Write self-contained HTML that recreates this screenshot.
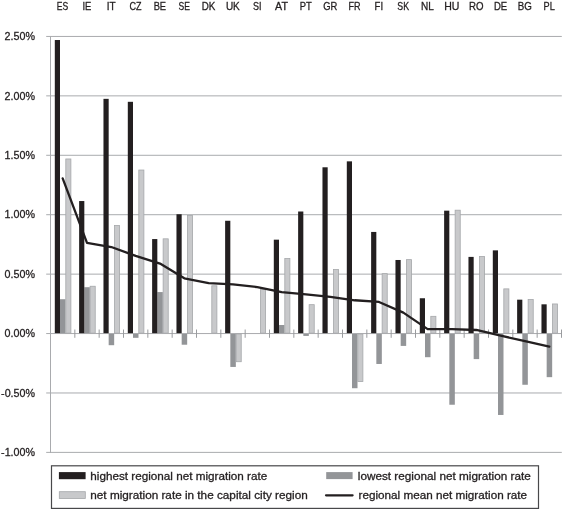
<!DOCTYPE html>
<html><head><meta charset="utf-8"><title>Regional net migration rates</title>
<style>html,body{margin:0;padding:0;background:#fff}svg{display:block}text{font-family:"Liberation Sans", sans-serif;fill:#231f20;stroke:#231f20;stroke-width:0.3px}</style></head><body>
<svg width="562" height="509" viewBox="0 0 562 509">
<rect width="562" height="509" fill="#fff"/>
<g stroke="#a9abae" stroke-width="1" fill="none">
<line x1="46.2" y1="36.45" x2="561.8" y2="36.45"/>
<line x1="46.2" y1="95.87" x2="561.8" y2="95.87"/>
<line x1="46.2" y1="155.29" x2="561.8" y2="155.29"/>
<line x1="46.2" y1="214.71" x2="561.8" y2="214.71"/>
<line x1="46.2" y1="274.13" x2="561.8" y2="274.13"/>
<line x1="46.2" y1="333.55" x2="561.8" y2="333.55"/>
<line x1="46.2" y1="392.97" x2="561.8" y2="392.97"/>
<line x1="46.2" y1="452.39" x2="561.8" y2="452.39"/>
<line x1="50.5" y1="36" x2="50.5" y2="453"/>
<line x1="74.83" y1="329.5" x2="74.83" y2="337.8" stroke="#9a9c9f"/>
<line x1="99.17" y1="329.5" x2="99.17" y2="337.8" stroke="#9a9c9f"/>
<line x1="123.50" y1="329.5" x2="123.50" y2="337.8" stroke="#9a9c9f"/>
<line x1="147.83" y1="329.5" x2="147.83" y2="337.8" stroke="#9a9c9f"/>
<line x1="172.17" y1="329.5" x2="172.17" y2="337.8" stroke="#9a9c9f"/>
<line x1="196.50" y1="329.5" x2="196.50" y2="337.8" stroke="#9a9c9f"/>
<line x1="220.83" y1="329.5" x2="220.83" y2="337.8" stroke="#9a9c9f"/>
<line x1="245.17" y1="329.5" x2="245.17" y2="337.8" stroke="#9a9c9f"/>
<line x1="269.50" y1="329.5" x2="269.50" y2="337.8" stroke="#9a9c9f"/>
<line x1="293.83" y1="329.5" x2="293.83" y2="337.8" stroke="#9a9c9f"/>
<line x1="318.17" y1="329.5" x2="318.17" y2="337.8" stroke="#9a9c9f"/>
<line x1="342.50" y1="329.5" x2="342.50" y2="337.8" stroke="#9a9c9f"/>
<line x1="366.83" y1="329.5" x2="366.83" y2="337.8" stroke="#9a9c9f"/>
<line x1="391.17" y1="329.5" x2="391.17" y2="337.8" stroke="#9a9c9f"/>
<line x1="415.50" y1="329.5" x2="415.50" y2="337.8" stroke="#9a9c9f"/>
<line x1="439.83" y1="329.5" x2="439.83" y2="337.8" stroke="#9a9c9f"/>
<line x1="464.17" y1="329.5" x2="464.17" y2="337.8" stroke="#9a9c9f"/>
<line x1="488.50" y1="329.5" x2="488.50" y2="337.8" stroke="#9a9c9f"/>
<line x1="512.83" y1="329.5" x2="512.83" y2="337.8" stroke="#9a9c9f"/>
<line x1="537.17" y1="329.5" x2="537.17" y2="337.8" stroke="#9a9c9f"/>
<line x1="561.50" y1="329.5" x2="561.50" y2="337.8" stroke="#9a9c9f"/>
</g>
<rect x="60.00" y="299.21" width="5.50" height="33.94" fill="#939598"/>
<rect x="65.80" y="158.97" width="5.10" height="174.18" fill="#c8c9cb" stroke="#a5a7aa" stroke-width="0.8"/>
<rect x="54.80" y="40.02" width="5.20" height="293.13" fill="#231f20"/>
<rect x="84.33" y="287.20" width="5.50" height="45.95" fill="#939598"/>
<rect x="90.13" y="286.25" width="5.10" height="46.90" fill="#c8c9cb" stroke="#a5a7aa" stroke-width="0.8"/>
<rect x="79.13" y="201.04" width="5.20" height="132.11" fill="#231f20"/>
<rect x="108.67" y="333.95" width="5.50" height="11.25" fill="#939598"/>
<rect x="114.47" y="225.52" width="5.10" height="107.63" fill="#c8c9cb" stroke="#a5a7aa" stroke-width="0.8"/>
<rect x="103.47" y="98.84" width="5.20" height="234.31" fill="#231f20"/>
<rect x="133.00" y="333.95" width="5.50" height="3.88" fill="#939598"/>
<rect x="138.80" y="170.03" width="5.10" height="163.12" fill="#c8c9cb" stroke="#a5a7aa" stroke-width="0.8"/>
<rect x="127.80" y="101.81" width="5.20" height="231.34" fill="#231f20"/>
<rect x="157.33" y="292.07" width="5.50" height="41.08" fill="#939598"/>
<rect x="163.13" y="238.83" width="5.10" height="94.32" fill="#c8c9cb" stroke="#a5a7aa" stroke-width="0.8"/>
<rect x="152.13" y="239.07" width="5.20" height="94.08" fill="#231f20"/>
<rect x="181.67" y="333.95" width="5.50" height="10.77" fill="#939598"/>
<rect x="187.47" y="215.54" width="5.10" height="117.61" fill="#c8c9cb" stroke="#a5a7aa" stroke-width="0.8"/>
<rect x="176.47" y="214.23" width="5.20" height="118.92" fill="#231f20"/>
<rect x="211.80" y="285.78" width="5.10" height="47.37" fill="#c8c9cb" stroke="#a5a7aa" stroke-width="0.8"/>
<rect x="230.33" y="333.95" width="5.50" height="32.99" fill="#939598"/>
<rect x="236.13" y="333.95" width="5.10" height="27.77" fill="#c8c9cb" stroke="#a5a7aa" stroke-width="0.8"/>
<rect x="225.13" y="220.77" width="5.20" height="112.38" fill="#231f20"/>
<rect x="260.47" y="289.58" width="5.10" height="43.57" fill="#c8c9cb" stroke="#a5a7aa" stroke-width="0.8"/>
<rect x="279.00" y="324.99" width="5.50" height="8.16" fill="#939598"/>
<rect x="284.80" y="258.56" width="5.10" height="74.59" fill="#c8c9cb" stroke="#a5a7aa" stroke-width="0.8"/>
<rect x="273.80" y="239.67" width="5.20" height="93.48" fill="#231f20"/>
<rect x="303.33" y="333.95" width="5.50" height="1.98" fill="#939598"/>
<rect x="309.13" y="304.67" width="5.10" height="28.48" fill="#c8c9cb" stroke="#a5a7aa" stroke-width="0.8"/>
<rect x="298.13" y="211.50" width="5.20" height="121.65" fill="#231f20"/>
<rect x="333.47" y="269.50" width="5.10" height="63.65" fill="#c8c9cb" stroke="#a5a7aa" stroke-width="0.8"/>
<rect x="322.47" y="167.29" width="5.20" height="165.86" fill="#231f20"/>
<rect x="352.00" y="333.95" width="5.50" height="54.27" fill="#939598"/>
<rect x="357.80" y="333.95" width="5.10" height="47.61" fill="#c8c9cb" stroke="#a5a7aa" stroke-width="0.8"/>
<rect x="346.80" y="161.35" width="5.20" height="171.80" fill="#231f20"/>
<rect x="376.33" y="333.95" width="5.50" height="30.02" fill="#939598"/>
<rect x="382.13" y="273.65" width="5.10" height="59.50" fill="#c8c9cb" stroke="#a5a7aa" stroke-width="0.8"/>
<rect x="371.13" y="231.94" width="5.20" height="101.21" fill="#231f20"/>
<rect x="400.67" y="333.95" width="5.50" height="11.96" fill="#939598"/>
<rect x="406.47" y="259.63" width="5.10" height="73.52" fill="#c8c9cb" stroke="#a5a7aa" stroke-width="0.8"/>
<rect x="395.47" y="259.99" width="5.20" height="73.16" fill="#231f20"/>
<rect x="425.00" y="333.95" width="5.50" height="23.25" fill="#939598"/>
<rect x="430.80" y="316.32" width="5.10" height="16.83" fill="#c8c9cb" stroke="#a5a7aa" stroke-width="0.8"/>
<rect x="419.80" y="298.25" width="5.20" height="34.90" fill="#231f20"/>
<rect x="449.33" y="333.95" width="5.50" height="70.79" fill="#939598"/>
<rect x="455.13" y="210.19" width="5.10" height="122.96" fill="#c8c9cb" stroke="#a5a7aa" stroke-width="0.8"/>
<rect x="444.13" y="210.67" width="5.20" height="122.48" fill="#231f20"/>
<rect x="473.67" y="333.95" width="5.50" height="25.15" fill="#939598"/>
<rect x="479.47" y="256.42" width="5.10" height="76.73" fill="#c8c9cb" stroke="#a5a7aa" stroke-width="0.8"/>
<rect x="468.47" y="256.90" width="5.20" height="76.25" fill="#231f20"/>
<rect x="498.00" y="333.95" width="5.50" height="81.01" fill="#939598"/>
<rect x="503.80" y="288.87" width="5.10" height="44.28" fill="#c8c9cb" stroke="#a5a7aa" stroke-width="0.8"/>
<rect x="492.80" y="250.36" width="5.20" height="82.79" fill="#231f20"/>
<rect x="522.33" y="333.95" width="5.50" height="50.82" fill="#939598"/>
<rect x="528.13" y="299.44" width="5.10" height="33.71" fill="#c8c9cb" stroke="#a5a7aa" stroke-width="0.8"/>
<rect x="517.13" y="299.68" width="5.20" height="33.47" fill="#231f20"/>
<rect x="546.67" y="333.95" width="5.50" height="43.21" fill="#939598"/>
<rect x="552.47" y="303.96" width="5.10" height="29.19" fill="#c8c9cb" stroke="#a5a7aa" stroke-width="0.8"/>
<rect x="541.47" y="304.32" width="5.20" height="28.83" fill="#231f20"/>
<polyline points="62.67,178.34 87.00,242.88 111.33,247.03 135.67,255.95 160.00,263.55 184.33,278.29 208.67,283.04 233.00,284.47 257.33,287.08 281.67,292.19 306.00,294.45 330.33,296.95 354.67,300.27 379.00,301.94 403.33,312.63 427.67,329.15 452.00,329.15 476.33,329.98 500.67,335.69 525.00,341.16 549.33,346.62" fill="none" stroke="#231f20" stroke-width="2.3" stroke-linejoin="round" stroke-linecap="round"/>
<text x="62.52" y="10.4" font-size="11" text-anchor="middle" textLength="11.4" lengthAdjust="spacingAndGlyphs">ES</text>
<text x="86.85" y="10.4" font-size="11" text-anchor="middle" textLength="8.9" lengthAdjust="spacingAndGlyphs">IE</text>
<text x="111.18" y="10.4" font-size="11" text-anchor="middle" textLength="8.9" lengthAdjust="spacingAndGlyphs">IT</text>
<text x="135.52" y="10.4" font-size="11" text-anchor="middle" textLength="12.0" lengthAdjust="spacingAndGlyphs">CZ</text>
<text x="159.85" y="10.4" font-size="11" text-anchor="middle" textLength="12.4" lengthAdjust="spacingAndGlyphs">BE</text>
<text x="184.18" y="10.4" font-size="11" text-anchor="middle" textLength="11.4" lengthAdjust="spacingAndGlyphs">SE</text>
<text x="208.52" y="10.4" font-size="11" text-anchor="middle" textLength="13.6" lengthAdjust="spacingAndGlyphs">DK</text>
<text x="232.85" y="10.4" font-size="11" text-anchor="middle" textLength="13.9" lengthAdjust="spacingAndGlyphs">UK</text>
<text x="257.18" y="10.4" font-size="11" text-anchor="middle" textLength="8.5" lengthAdjust="spacingAndGlyphs">SI</text>
<text x="281.52" y="10.4" font-size="11" text-anchor="middle" textLength="12.8" lengthAdjust="spacingAndGlyphs">AT</text>
<text x="305.85" y="10.4" font-size="11" text-anchor="middle" textLength="12.0" lengthAdjust="spacingAndGlyphs">PT</text>
<text x="330.18" y="10.4" font-size="11" text-anchor="middle" textLength="14.1" lengthAdjust="spacingAndGlyphs">GR</text>
<text x="354.52" y="10.4" font-size="11" text-anchor="middle" textLength="12.0" lengthAdjust="spacingAndGlyphs">FR</text>
<text x="378.85" y="10.4" font-size="11" text-anchor="middle" textLength="8.5" lengthAdjust="spacingAndGlyphs">FI</text>
<text x="403.18" y="10.4" font-size="11" text-anchor="middle" textLength="11.7" lengthAdjust="spacingAndGlyphs">SK</text>
<text x="427.52" y="10.4" font-size="11" text-anchor="middle" textLength="12.8" lengthAdjust="spacingAndGlyphs">NL</text>
<text x="451.85" y="10.4" font-size="11" text-anchor="middle" textLength="15.2" lengthAdjust="spacingAndGlyphs">HU</text>
<text x="476.18" y="10.4" font-size="11" text-anchor="middle" textLength="14.5" lengthAdjust="spacingAndGlyphs">RO</text>
<text x="500.52" y="10.4" font-size="11" text-anchor="middle" textLength="13.2" lengthAdjust="spacingAndGlyphs">DE</text>
<text x="524.85" y="10.4" font-size="11" text-anchor="middle" textLength="14.1" lengthAdjust="spacingAndGlyphs">BG</text>
<text x="549.18" y="10.4" font-size="11" text-anchor="middle" textLength="11.2" lengthAdjust="spacingAndGlyphs">PL</text>
<text x="35" y="40.20" font-size="11.5" text-anchor="end" textLength="30.4" lengthAdjust="spacingAndGlyphs">2.50%</text>
<text x="35" y="99.62" font-size="11.5" text-anchor="end" textLength="30.4" lengthAdjust="spacingAndGlyphs">2.00%</text>
<text x="35" y="159.04" font-size="11.5" text-anchor="end" textLength="30.4" lengthAdjust="spacingAndGlyphs">1.50%</text>
<text x="35" y="218.46" font-size="11.5" text-anchor="end" textLength="30.4" lengthAdjust="spacingAndGlyphs">1.00%</text>
<text x="35" y="277.88" font-size="11.5" text-anchor="end" textLength="30.4" lengthAdjust="spacingAndGlyphs">0.50%</text>
<text x="35" y="337.30" font-size="11.5" text-anchor="end" textLength="30.4" lengthAdjust="spacingAndGlyphs">0.00%</text>
<text x="35" y="396.72" font-size="11.5" text-anchor="end" textLength="33.9" lengthAdjust="spacingAndGlyphs">-0.50%</text>
<text x="35" y="456.14" font-size="11.5" text-anchor="end" textLength="33.9" lengthAdjust="spacingAndGlyphs">-1.00%</text>
<rect x="51.5" y="465.8" width="487" height="42.6" fill="#fff" stroke="#48484a" stroke-width="1.2"/>
<rect x="58.9" y="472.1" width="26.7" height="7.1" fill="#231f20"/>
<rect x="59.3" y="491.7" width="26" height="6.8" fill="#c8c9cb" stroke="#a5a7aa" stroke-width="0.8"/>
<rect x="326.2" y="472.1" width="26.4" height="7" fill="#939598"/>
<line x1="326" y1="495.3" x2="352.6" y2="495.3" stroke="#231f20" stroke-width="2.2" stroke-linecap="round"/>
<text x="90.3" y="479.7" font-size="11.3" textLength="177" lengthAdjust="spacingAndGlyphs">highest regional net migration rate</text>
<text x="90.3" y="499.2" font-size="11.3" textLength="217.4" lengthAdjust="spacingAndGlyphs">net migration rate in the capital city region</text>
<text x="357.8" y="479.7" font-size="11.3" textLength="173.0" lengthAdjust="spacingAndGlyphs">lowest regional net migration rate</text>
<text x="358.5" y="499.2" font-size="11.3" textLength="168.6" lengthAdjust="spacingAndGlyphs">regional mean net migration rate</text>
</svg></body></html>
